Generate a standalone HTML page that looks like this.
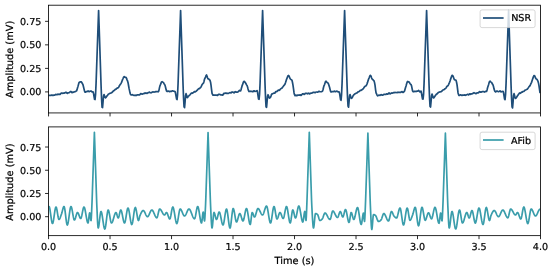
<!DOCTYPE html>
<html lang="en"><head><meta charset="utf-8"><title>NSR vs AFib ECG</title>
<style>html,body{margin:0;padding:0;background:#fff}svg{display:block}text{font-family:"DejaVu Sans","Liberation Sans",sans-serif;font-size:9.6px;fill:#000;stroke:#000;stroke-width:0.22px;text-rendering:geometricPrecision}</style>
</head><body>
<svg width="550" height="270" viewBox="0 0 550 270">
<rect width="550" height="270" fill="#fff"/>
<defs><clipPath id="ct"><rect x="48.55" y="5.2" width="491.95" height="107.73"/></clipPath>
<clipPath id="cb"><rect x="48.55" y="126.9" width="491.95" height="108.75"/></clipPath></defs>
<path d="M48.55 94.96 L49.05 95.43 L49.55 95.5 L50.05 95.5 L50.55 95.31 L51.05 95.33 L51.55 95.15 L52.05 95.01 L52.55 95.42 L53.05 95.47 L53.55 95.09 L54.05 95.06 L54.55 95.12 L55.05 94.92 L55.55 94.57 L56.05 94.41 L56.55 94.63 L57.05 94.7 L57.55 94.33 L58.05 94.18 L58.55 94.48 L59.05 94.32 L59.55 94.19 L60.05 94.38 L60.55 93.86 L61.05 93.24 L61.55 92.99 L62.05 92.99 L62.55 93.36 L63.05 93.29 L63.55 93.18 L64.05 93.18 L64.55 92.91 L65.05 92.71 L65.55 92.41 L66.05 92.3 L66.55 92.63 L67.05 93.25 L67.55 93.33 L68.05 92.9 L68.55 92.72 L69.05 92.63 L69.55 92.45 L70.05 91.99 L70.55 91.47 L71.05 91.53 L71.55 92.29 L72.05 92.74 L72.55 92.28 L73.05 92.04 L73.55 92.29 L74.05 92.07 L74.55 91.77 L75.05 91.68 L75.55 91.49 L76.05 91.12 L76.55 90.8 L77.05 89.64 L77.55 87.8 L78.05 86.13 L78.55 84.25 L79.05 82.49 L79.55 81.99 L80.05 82.09 L80.55 81.86 L81.05 81.77 L81.55 82.19 L82.05 82.97 L82.55 83.86 L83.05 84.94 L83.55 86.92 L84.05 89.09 L84.55 91.07 L85.05 92.2 L85.55 92.06 L86.05 91.59 L86.55 91.54 L87.05 91.59 L87.55 91.16 L88.05 90.93 L88.55 91.39 L89.05 91.71 L89.55 91.43 L90.05 91.09 L90.55 91.05 L91.05 91.08 L91.55 91.32 L92.05 91.82 L92.55 91.98 L93.05 91.78 L93.55 93.39 L94.05 96.59 L94.55 99.3 L95.05 99.51 L95.55 94.44 L96.05 83.86 L96.55 69.61 L97.05 55.21 L97.55 40.74 L98.05 26.33 L98.55 11.99 L98.6 10.61 L99.05 24.24 L99.55 39.36 L100.05 54.55 L100.55 69.76 L101.05 84.97 L101.55 98.13 L102.05 107.29 L102.55 107.52 L103.05 101.77 L103.55 95.95 L104.05 94.53 L104.55 95.91 L105.05 97.43 L105.55 97.82 L106.05 97.44 L106.55 96.52 L107.05 95.87 L107.55 95.43 L108.05 94.59 L108.55 93.97 L109.05 93.88 L109.55 93.59 L110.05 93.27 L110.55 93.15 L111.05 92.89 L111.55 92.61 L112.05 92.38 L112.55 91.85 L113.05 91.22 L113.55 90.83 L114.05 90.61 L114.55 90.3 L115.05 89.64 L115.55 89.21 L116.05 89.09 L116.55 88.53 L117.05 88.09 L117.55 88.07 L118.05 87.78 L118.55 87.28 L119.05 86.49 L119.55 85.5 L120.05 84.75 L120.55 84.16 L121.05 83.39 L121.55 82.4 L122.05 81.06 L122.55 79.66 L123.05 78.53 L123.55 77.31 L124.05 76.65 L124.55 76.81 L125.05 77.29 L125.55 77.45 L126.05 77.46 L126.55 78.4 L127.05 79.86 L127.55 80.95 L128.05 82.64 L128.55 85.48 L129.05 88.41 L129.55 90.64 L130.05 93.08 L130.55 94.49 L131.05 94.81 L131.55 94.93 L132.05 94.78 L132.55 94.7 L133.05 94.92 L133.55 95.2 L134.05 95.42 L134.55 95.42 L135.05 95.15 L135.55 95.23 L136.05 95.53 L136.55 95.25 L137.05 94.88 L137.55 94.92 L138.05 94.89 L138.55 94.85 L139.05 94.95 L139.55 94.91 L140.05 94.35 L140.55 93.61 L141.05 93.63 L141.55 94.01 L142.05 94.1 L142.55 94.11 L143.05 93.83 L143.55 93.59 L144.05 93.61 L144.55 93.1 L145.05 92.98 L145.55 93.31 L146.05 93.06 L146.55 93.18 L147.05 93.42 L147.55 92.93 L148.05 92.62 L148.55 92.7 L149.05 92.34 L149.55 92.1 L150.05 92.46 L150.55 92.77 L151.05 92.79 L151.55 92.62 L152.05 92.31 L152.55 92.01 L153.05 91.83 L153.55 91.97 L154.05 92.13 L154.55 92.03 L155.05 91.9 L155.55 91.64 L156.05 91.5 L156.55 91.58 L157.05 91.65 L157.55 91.69 L158.05 91.78 L158.55 91.62 L159.05 89.86 L159.55 87.37 L160.05 85.56 L160.55 84.4 L161.05 83.15 L161.55 81.93 L162.05 81.68 L162.55 82.02 L163.05 82.21 L163.55 82.75 L164.05 83.67 L164.55 84.46 L165.05 85.37 L165.55 87.24 L166.05 89.37 L166.55 90.87 L167.05 91.45 L167.55 91.48 L168.05 91.14 L168.55 91.02 L169.05 91.46 L169.55 91.63 L170.05 91.39 L170.55 91.29 L171.05 91.44 L171.55 91.32 L172.05 91.02 L172.55 90.89 L173.05 91.04 L173.55 91.19 L174.05 91.28 L174.55 91.4 L175.05 91.52 L175.55 93.27 L176.05 96.21 L176.55 98.89 L177.05 99.56 L177.55 94.55 L178.05 83.93 L178.55 69.49 L179.05 55.04 L179.55 40.76 L180.05 26.48 L180.55 12.06 L180.6 10.58 L181.05 24.24 L181.55 39.41 L182.05 54.6 L182.55 69.79 L183.05 84.99 L183.55 98.08 L184.05 106.82 L184.55 107.65 L185.05 102.13 L185.55 95.68 L186.05 93.63 L186.55 95.23 L187.05 97.52 L187.55 97.61 L188.05 96.58 L188.55 95.93 L189.05 95.67 L189.55 95.26 L190.05 94.71 L190.55 94.13 L191.05 93.39 L191.55 93.08 L192.05 93.29 L192.55 93.13 L193.05 92.83 L193.55 92.53 L194.05 91.89 L194.55 91.62 L195.05 91.87 L195.55 91.72 L196.05 91.25 L196.55 90.84 L197.05 90.26 L197.55 89.82 L198.05 89.28 L198.55 88.72 L199.05 88.73 L199.55 88.59 L200.05 87.93 L200.55 87.49 L201.05 86.96 L201.55 85.77 L202.05 84.74 L202.55 84.06 L203.05 83.47 L203.55 82.89 L204.05 81.23 L204.55 79.06 L205.05 78.01 L205.55 77.15 L206.05 75.59 L206.55 75.01 L207.05 76.23 L207.55 77.82 L208.05 78.81 L208.55 78.94 L209.05 79.24 L209.55 79.92 L210.05 80.43 L210.55 82.2 L211.05 85.42 L211.55 89.71 L212.05 93.34 L212.55 94.49 L213.05 95.26 L213.55 95.16 L214.05 95.07 L214.55 95.17 L215.05 95.14 L215.55 95.11 L216.05 95 L216.55 95.06 L217.05 95.45 L217.55 95.52 L218.05 94.89 L218.55 94.43 L219.05 94.44 L219.55 94.39 L220.05 94.51 L220.55 94.8 L221.05 95.04 L221.55 94.89 L222.05 94.71 L222.55 95.1 L223.05 94.97 L223.55 93.9 L224.05 93.24 L224.55 93.47 L225.05 93.39 L225.55 93.01 L226.05 93.21 L226.55 93.29 L227.05 93.21 L227.55 93.49 L228.05 93.5 L228.55 93.17 L229.05 92.97 L229.55 92.74 L230.05 92.63 L230.55 92.83 L231.05 92.85 L231.55 92.32 L232.05 92.04 L232.55 92.21 L233.05 92.16 L233.55 92.48 L234.05 92.84 L234.55 92.35 L235.05 91.68 L235.55 91.73 L236.05 92.16 L236.55 92.2 L237.05 92.16 L237.55 92.12 L238.05 91.81 L238.55 91.46 L239.05 90.9 L239.55 90.37 L240.05 90.58 L240.55 90.91 L241.05 89.71 L241.55 87.67 L242.05 85.91 L242.55 84.58 L243.05 83.18 L243.55 81.88 L244.05 81.29 L244.55 81.51 L245.05 82.27 L245.55 82.98 L246.05 83.81 L246.55 84.87 L247.05 85.58 L247.55 86.95 L248.05 88.96 L248.55 90.66 L249.05 91.54 L249.55 91.37 L250.05 91.16 L250.55 91.43 L251.05 91.45 L251.55 91.39 L252.05 91.46 L252.55 91.72 L253.05 91.7 L253.55 91.07 L254.05 90.77 L254.55 91.18 L255.05 91.47 L255.55 91.23 L256.05 91.15 L256.55 90.98 L257.05 90.55 L257.55 92.33 L258.05 95.91 L258.55 99.02 L259.05 99.31 L259.55 94.39 L260.05 83.73 L260.55 69.38 L261.05 55.05 L261.55 40.7 L262.05 26.33 L262.55 12.01 L262.6 10.63 L263.05 24.28 L263.55 39.45 L264.05 54.59 L264.55 69.72 L265.05 84.92 L265.55 98.08 L266.05 106.94 L266.55 107.33 L267.05 101.81 L267.55 96.21 L268.05 94.71 L268.55 95.93 L269.05 97.65 L269.55 98.01 L270.05 97.69 L270.55 97.09 L271.05 95.84 L271.55 94.4 L272.05 93.9 L272.55 93.8 L273.05 93.54 L273.55 93.18 L274.05 92.99 L274.55 93.24 L275.05 92.83 L275.55 91.77 L276.05 91.61 L276.55 91.77 L277.05 91.4 L277.55 90.8 L278.05 90.23 L278.55 90.12 L279.05 90.37 L279.55 90.24 L280.05 89.56 L280.55 88.94 L281.05 88.63 L281.55 88.35 L282.05 87.99 L282.55 87.36 L283.05 86.64 L283.55 85.93 L284.05 85.22 L284.55 84.82 L285.05 83.97 L285.55 82.55 L286.05 80.9 L286.55 79.27 L287.05 78.19 L287.55 76.9 L288.05 75.67 L288.55 75.44 L289.05 76.09 L289.55 77.27 L290.05 78.52 L290.55 79.15 L291.05 79.51 L291.55 79.84 L292.05 80.54 L292.55 82.76 L293.05 85.53 L293.55 89.19 L294.05 92.98 L294.55 94.72 L295.05 95.71 L295.55 95.44 L296.05 95.15 L296.55 95.57 L297.05 95.63 L297.55 95.16 L298.05 95.18 L298.55 95.17 L299.05 95.05 L299.55 95.04 L300.05 94.88 L300.55 95.13 L301.05 95.38 L301.55 94.97 L302.05 94.31 L302.55 93.89 L303.05 93.72 L303.55 93.99 L304.05 94.48 L304.55 94.23 L305.05 93.62 L305.55 93.36 L306.05 93.38 L306.55 93.38 L307.05 93.53 L307.55 93.79 L308.05 93.44 L308.55 93.17 L309.05 93.54 L309.55 93.9 L310.05 93.7 L310.55 93.22 L311.05 93.09 L311.55 93.14 L312.05 93.11 L312.55 92.86 L313.05 92.38 L313.55 92.26 L314.05 92.35 L314.55 92.45 L315.05 92.7 L315.55 92.48 L316.05 92.03 L316.55 91.98 L317.05 92 L317.55 92.15 L318.05 92.09 L318.55 91.46 L319.05 91.24 L319.55 91.62 L320.05 91.75 L320.55 91.76 L321.05 91.73 L321.55 91.65 L322.05 91.48 L322.55 91.03 L323.05 89.5 L323.55 87.23 L324.05 85.53 L324.55 84.53 L325.05 83.04 L325.55 81.45 L326.05 81.18 L326.55 81.92 L327.05 82.46 L327.55 82.71 L328.05 83.13 L328.55 84.18 L329.05 85.64 L329.55 87.3 L330.05 89.35 L330.55 91.31 L331.05 92.02 L331.55 91.73 L332.05 91.49 L332.55 91.55 L333.05 91.66 L333.55 91.62 L334.05 91.25 L334.55 91.18 L335.05 91.6 L335.55 91.77 L336.05 91.43 L336.55 91.12 L337.05 91.11 L337.55 91.41 L338.05 91.87 L338.55 91.97 L339.05 91.82 L339.55 93.24 L340.05 96.38 L340.55 99.69 L341.05 100.3 L341.55 94.56 L342.05 83.87 L342.55 69.51 L343.05 55.14 L343.55 40.76 L344.05 26.35 L344.55 11.98 L344.6 10.61 L345.05 24.33 L345.55 39.52 L346.05 54.61 L346.55 69.7 L347.05 84.79 L347.55 97.86 L348.05 106.19 L348.55 107.18 L349.05 101.77 L349.55 96.1 L350.05 94.63 L350.55 96.12 L351.05 98.1 L351.55 98.37 L352.05 97.77 L352.55 96.94 L353.05 95.97 L353.55 95.05 L354.05 94.55 L354.55 94.11 L355.05 93.79 L355.55 93.65 L356.05 93.29 L356.55 92.98 L357.05 92.9 L357.55 92.45 L358.05 91.84 L358.55 91.78 L359.05 91.56 L359.55 91.02 L360.05 90.59 L360.55 90.35 L361.05 90.33 L361.55 89.95 L362.05 89.61 L362.55 89.43 L363.05 88.95 L363.55 88.33 L364.05 87.58 L364.55 86.85 L365.05 86.28 L365.55 86.02 L366.05 85.68 L366.55 84.92 L367.05 83.83 L367.55 82.37 L368.05 80.64 L368.55 79.16 L369.05 78.05 L369.55 76.71 L370.05 75.6 L370.55 75.41 L371.05 76.2 L371.55 77.72 L372.05 79.05 L372.55 79.35 L373.05 79.79 L373.55 80.4 L374.05 80.93 L374.55 82.62 L375.05 85.41 L375.55 89.52 L376.05 92.84 L376.55 93.81 L377.05 95.11 L377.55 95.84 L378.05 95.77 L378.55 95.27 L379.05 95.1 L379.55 95.33 L380.05 95.33 L380.55 94.93 L381.05 94.61 L381.55 94.73 L382.05 95.08 L382.55 95.17 L383.05 95 L383.55 94.6 L384.05 94.27 L384.55 94.3 L385.05 94.29 L385.55 94.38 L386.05 94.37 L386.55 93.96 L387.05 93.87 L387.55 94.18 L388.05 94.04 L388.55 93.26 L389.05 92.79 L389.55 93.28 L390.05 93.84 L390.55 93.74 L391.05 93.25 L391.55 92.96 L392.05 93.12 L392.55 93.14 L393.05 92.84 L393.55 92.68 L394.05 92.69 L394.55 92.58 L395.05 92.44 L395.55 92.53 L396.05 92.52 L396.55 92.51 L397.05 92.76 L397.55 92.57 L398.05 92.18 L398.55 92.39 L399.05 92.45 L399.55 92.31 L400.05 92.41 L400.55 92.39 L401.05 92.18 L401.55 91.71 L402.05 91.59 L402.55 92.18 L403.05 92.45 L403.55 92.12 L404.05 91.68 L404.55 90.97 L405.05 89.26 L405.55 87.56 L406.05 85.99 L406.55 84.08 L407.05 82.42 L407.55 81.48 L408.05 81.59 L408.55 81.93 L409.05 81.95 L409.55 82.67 L410.05 83.75 L410.55 84.23 L411.05 84.57 L411.55 85.92 L412.05 88.33 L412.55 90.72 L413.05 91.64 L413.55 91.79 L414.05 91.69 L414.55 91.25 L415.05 91.24 L415.55 91.51 L416.05 91.53 L416.55 91.2 L417.05 91.04 L417.55 91.22 L418.05 90.89 L418.55 90.49 L419.05 90.89 L419.55 91.62 L420.05 91.87 L420.55 91.3 L421.05 91.2 L421.55 93.48 L422.05 96.63 L422.55 99.03 L423.05 99.16 L423.55 94.44 L424.05 83.87 L424.55 69.48 L425.05 55.06 L425.55 40.75 L426.05 26.45 L426.55 12.06 L426.6 10.63 L427.05 24.29 L427.55 39.41 L428.05 54.55 L428.55 69.79 L429.05 85.01 L429.55 98.05 L430.05 106.43 L430.55 107.01 L431.05 101.71 L431.55 95.7 L432.05 94.06 L432.55 95.58 L433.05 97.37 L433.55 97.98 L434.05 97.63 L434.55 96.76 L435.05 96.04 L435.55 95.38 L436.05 94.59 L436.55 94.1 L437.05 93.95 L437.55 93.42 L438.05 92.71 L438.55 92.36 L439.05 92.25 L439.55 91.97 L440.05 91.81 L440.55 91.78 L441.05 91.61 L441.55 91.4 L442.05 90.93 L442.55 90.35 L443.05 89.94 L443.55 89.74 L444.05 89.61 L444.55 89.18 L445.05 88.76 L445.55 88.51 L446.05 87.93 L446.55 87.02 L447.05 86.35 L447.55 86.07 L448.05 85.53 L448.55 84.59 L449.05 83.47 L449.55 82.34 L450.05 80.94 L450.55 79.35 L451.05 77.89 L451.55 76.42 L452.05 75.37 L452.55 75.32 L453.05 76.17 L453.55 77.51 L454.05 78.99 L454.55 79.74 L455.05 79.91 L455.55 79.97 L456.05 80.36 L456.55 82.26 L457.05 84.97 L457.55 88.85 L458.05 92.9 L458.55 94.54 L459.05 95.51 L459.55 95.48 L460.05 95.03 L460.55 94.85 L461.05 95.06 L461.55 95.33 L462.05 95.35 L462.55 95.17 L463.05 95.02 L463.55 95.18 L464.05 95.22 L464.55 94.89 L465.05 95.04 L465.55 95.38 L466.05 95.07 L466.55 94.7 L467.05 94.57 L467.55 94.33 L468.05 94.44 L468.55 94.89 L469.05 94.6 L469.55 93.89 L470.05 94.11 L470.55 94.34 L471.05 93.85 L471.55 93.81 L472.05 93.9 L472.55 93.58 L473.05 93.41 L473.55 93.07 L474.05 92.73 L474.55 92.94 L475.05 93.18 L475.55 93.5 L476.05 93.7 L476.55 93.26 L477.05 92.83 L477.55 92.8 L478.05 92.89 L478.55 92.67 L479.05 92.08 L479.55 91.63 L480.05 91.72 L480.55 92.16 L481.05 92.19 L481.55 91.85 L482.05 91.69 L482.55 91.59 L483.05 91.52 L483.55 91.53 L484.05 91.75 L484.55 92.03 L485.05 91.78 L485.55 91.28 L486.05 91.31 L486.55 91.46 L487.05 90.04 L487.55 87.84 L488.05 86.32 L488.55 84.8 L489.05 82.85 L489.55 81.45 L490.05 81.2 L490.55 81.7 L491.05 82.1 L491.55 82.44 L492.05 83.26 L492.55 84.31 L493.05 85.08 L493.55 86.72 L494.05 89.08 L494.55 90.6 L495.05 91.47 L495.55 91.97 L496.05 91.58 L496.55 91.09 L497.05 91.08 L497.55 91.33 L498.05 91.64 L498.55 91.72 L499.05 91.54 L499.55 91.12 L500.05 90.91 L500.55 91.39 L501.05 91.9 L501.55 91.77 L502.05 91.51 L502.55 91.44 L503.05 91.31 L503.55 92.83 L504.05 95.95 L504.55 98.99 L505.05 99.59 L505.55 94.5 L506.05 83.91 L506.55 69.62 L507.05 55.22 L507.55 40.75 L508.05 26.33 L508.55 11.95 L508.6 10.53 L509.05 24.23 L509.55 39.44 L510.05 54.6 L510.55 69.76 L511.05 84.91 L511.55 98.01 L512.05 106.88 L512.55 107.96 L513.05 102.27 L513.55 95.54 L514.05 93.68 L514.55 95.51 L515.05 97.76 L515.55 98.41 L516.05 98.06 L516.55 97.29 L517.05 96.45 L517.55 95.64 L518.05 94.98 L518.55 94.37 L519.05 93.6 L519.55 92.97 L520.05 93.14 L520.55 93.28 L521.05 92.61 L521.55 92.22 L522.05 92.23 L522.55 91.82 L523.05 91.49 L523.55 91.52 L524.05 91.25 L524.55 90.68 L525.05 90.17 L525.55 89.94 L526.05 89.77 L526.55 89.56 L527.05 89.32 L527.55 88.81 L528.05 88.15 L528.55 87.39 L529.05 86.63 L529.55 86.23 L530.05 85.62 L530.55 84.48 L531.05 83.43 L531.55 82.37 L532.05 80.79 L532.55 79.3 L533.05 77.91 L533.55 76.33 L534.05 75.5 L534.55 75.7 L535.05 76.73 L535.55 77.97 L536.05 78.83 L536.55 79.15 L537.05 79.53 L537.55 80.35 L538.05 81.49 L538.55 83.4 L539.05 86.02 L539.55 89.74 L540.05 93.08" fill="none" stroke="#1f4e79" stroke-width="1.7" stroke-linejoin="round" stroke-linecap="butt" clip-path="url(#ct)"/>
<path d="M48.55 206.79 L48.8 206.56 L49.05 206.51 L49.3 206.85 L49.55 207.63 L49.8 208.76 L50.05 210.17 L50.3 211.79 L50.55 213.55 L50.8 215.36 L51.05 217.16 L51.3 218.88 L51.55 220.42 L51.8 221.73 L52.05 222.73 L52.3 223.34 L52.55 223.49 L52.8 223.16 L53.05 222.41 L53.3 221.31 L53.55 219.94 L53.8 218.36 L54.05 216.66 L54.3 214.9 L54.55 213.15 L54.8 211.49 L55.05 209.99 L55.3 208.72 L55.55 207.75 L55.8 207.16 L56.05 207.01 L56.3 207.35 L56.55 208.11 L56.8 209.19 L57.05 210.52 L57.3 212.01 L57.55 213.56 L57.8 215.1 L58.05 216.53 L58.3 217.78 L58.55 218.74 L58.8 219.34 L59.05 219.5 L59.3 219.36 L59.55 219.06 L59.8 218.61 L60.05 218.05 L60.3 217.41 L60.55 216.71 L60.8 215.97 L61.05 215.24 L61.3 214.53 L61.55 213.87 L61.8 213.11 L62.05 212.22 L62.3 211.25 L62.55 210.25 L62.8 209.26 L63.05 208.36 L63.3 207.58 L63.55 206.97 L63.8 206.6 L64.05 206.51 L64.3 206.93 L64.55 207.87 L64.8 209.23 L65.05 210.93 L65.3 212.85 L65.55 214.91 L65.8 217.01 L66.05 219.05 L66.3 220.93 L66.55 222.57 L66.8 223.85 L67.05 224.7 L67.3 225 L67.55 224.76 L67.8 224.08 L68.05 223.03 L68.3 221.68 L68.55 220.09 L68.8 218.34 L69.05 216.5 L69.3 214.63 L69.55 212.8 L69.8 211.08 L70.05 209.53 L70.3 208.24 L70.55 207.25 L70.8 206.66 L71.05 206.51 L71.3 206.8 L71.55 207.45 L71.8 208.39 L72.05 209.57 L72.3 210.91 L72.55 212.36 L72.8 213.84 L73.05 215.31 L73.3 216.68 L73.55 217.89 L73.8 218.89 L74.05 219.6 L74.3 219.97 L74.55 219.95 L74.8 219.66 L75.05 219.15 L75.3 218.47 L75.55 217.67 L75.8 216.79 L76.05 215.89 L76.3 215 L76.55 214.18 L76.8 213.47 L77.05 212.93 L77.3 212.59 L77.55 212.5 L77.8 212.65 L78.05 212.97 L78.3 213.44 L78.55 214.01 L78.8 214.67 L79.05 215.36 L79.3 216.06 L79.55 216.73 L79.8 217.34 L80.05 217.86 L80.3 218.24 L80.55 218.46 L80.8 218.47 L81.05 218.14 L81.3 217.5 L81.55 216.6 L81.8 215.52 L82.05 214.3 L82.3 213.01 L82.55 211.71 L82.8 210.46 L83.05 209.31 L83.3 208.33 L83.55 207.58 L83.8 207.12 L84.05 207.01 L84.3 207.26 L84.55 207.82 L84.8 208.66 L85.05 209.73 L85.3 210.97 L85.55 212.35 L85.8 213.8 L86.05 215.3 L86.3 216.79 L86.55 218.22 L86.8 219.54 L87.05 220.72 L87.3 221.7 L87.55 222.44 L87.8 222.88 L88.05 222.97 L88.3 222.15 L88.55 220.46 L88.8 218.3 L89.05 216.07 L89.3 214.14 L89.55 212.93 L89.8 212.83 L90.05 214.13 L90.3 216.24 L90.55 218.49 L90.8 220.19 L91.05 220.62 L91.3 218.22 L91.55 213.44 L91.8 207.58 L92.05 201.53 L92.3 194.16 L92.55 186.8 L92.8 179.43 L93.05 172.07 L93.3 164.7 L93.55 157.34 L93.8 149.98 L94.05 142.61 L94.3 135.25 L94.4 132.3 L94.55 136.91 L94.8 144.6 L95.05 152.28 L95.3 159.97 L95.55 167.65 L95.8 175.33 L96.05 183.02 L96.3 190.7 L96.55 198.39 L96.8 205.16 L97.05 210.8 L97.3 216.37 L97.55 221.36 L97.8 225.27 L98.05 227.59 L98.3 227.94 L98.55 227.29 L98.8 226.05 L99.05 224.36 L99.3 222.36 L99.55 220.19 L99.8 217.99 L100.05 215.91 L100.3 214.08 L100.55 212.64 L100.8 211.74 L101.05 211.51 L101.3 211.81 L101.55 212.49 L101.8 213.5 L102.05 214.77 L102.3 216.24 L102.55 217.86 L102.8 219.56 L103.05 221.28 L103.3 222.97 L103.55 224.56 L103.8 226 L104.05 227.22 L104.3 228.17 L104.55 228.78 L104.8 229 L105.05 228.71 L105.3 227.89 L105.55 226.63 L105.8 225.04 L106.05 223.18 L106.3 221.17 L106.55 219.08 L106.8 217.01 L107.05 215.05 L107.3 213.29 L107.55 211.82 L107.8 210.73 L108.05 210.11 L108.3 210.04 L108.55 210.41 L108.8 211.13 L109.05 212.14 L109.3 213.37 L109.55 214.75 L109.8 216.2 L110.05 217.68 L110.3 219.09 L110.55 220.39 L110.8 221.49 L111.05 222.34 L111.3 222.86 L111.55 223 L111.8 222.87 L112.05 222.57 L112.3 222.12 L112.55 221.55 L112.8 220.88 L113.05 220.12 L113.3 219.3 L113.55 218.45 L113.8 217.58 L114.05 216.71 L114.3 215.86 L114.55 215.07 L114.8 214.34 L115.05 213.71 L115.3 213.18 L115.55 212.79 L115.8 212.56 L116.05 212.51 L116.3 212.78 L116.55 213.36 L116.8 214.15 L117.05 215.06 L117.3 215.99 L117.55 216.84 L117.8 217.52 L118.05 217.93 L118.3 217.97 L118.55 217.6 L118.8 216.92 L119.05 215.99 L119.3 214.92 L119.55 213.77 L119.8 212.64 L120.05 211.61 L120.3 210.77 L120.55 210.21 L120.8 210 L121.05 210.17 L121.3 210.65 L121.55 211.39 L121.8 212.34 L122.05 213.45 L122.3 214.68 L122.55 215.97 L122.8 217.29 L123.05 218.58 L123.3 219.78 L123.55 220.87 L123.8 221.78 L124.05 222.47 L124.3 222.89 L124.55 222.99 L124.8 222.69 L125.05 222.01 L125.3 221.01 L125.55 219.76 L125.8 218.33 L126.05 216.78 L126.3 215.18 L126.55 213.59 L126.8 212.08 L127.05 210.72 L127.3 209.56 L127.55 208.68 L127.8 208.14 L128.05 208.01 L128.3 208.29 L128.55 208.94 L128.8 209.89 L129.05 211.08 L129.3 212.47 L129.55 214 L129.8 215.6 L130.05 217.22 L130.3 218.82 L130.55 220.32 L130.8 221.67 L131.05 222.83 L131.3 223.72 L131.55 224.3 L131.8 224.5 L132.05 224.25 L132.3 223.56 L132.55 222.49 L132.8 221.13 L133.05 219.54 L133.3 217.81 L133.55 216 L133.8 214.19 L134.05 212.46 L134.3 210.87 L134.55 209.51 L134.8 208.44 L135.05 207.75 L135.3 207.5 L135.55 207.73 L135.8 208.35 L136.05 209.31 L136.3 210.52 L136.55 211.9 L136.8 213.39 L137.05 214.91 L137.3 216.39 L137.55 217.74 L137.8 218.91 L138.05 219.8 L138.3 220.35 L138.55 220.49 L138.8 220.09 L139.05 219.26 L139.3 218.19 L139.55 217.07 L139.8 216.08 L140.05 215.39 L140.3 214.83 L140.55 214.27 L140.8 213.72 L141.05 213.18 L141.3 212.68 L141.55 212.2 L141.8 211.77 L142.05 211.38 L142.3 211.06 L142.55 210.8 L142.8 210.62 L143.05 210.52 L143.3 210.51 L143.55 210.62 L143.8 210.83 L144.05 211.13 L144.3 211.51 L144.55 211.95 L144.8 212.44 L145.05 212.96 L145.3 213.49 L145.55 214.03 L145.8 214.56 L146.05 215.06 L146.3 215.52 L146.55 215.93 L146.8 216.26 L147.05 216.51 L147.3 216.66 L147.55 216.7 L147.8 216.61 L148.05 216.4 L148.3 216.09 L148.55 215.7 L148.8 215.23 L149.05 214.72 L149.3 214.16 L149.55 213.58 L149.8 213 L150.05 212.43 L150.3 211.88 L150.55 211.37 L150.8 210.92 L151.05 210.54 L151.3 210.25 L151.55 210.07 L151.8 210 L152.05 210.06 L152.3 210.22 L152.55 210.47 L152.8 210.81 L153.05 211.22 L153.3 211.68 L153.55 212.2 L153.8 212.75 L154.05 213.32 L154.3 213.9 L154.55 214.48 L154.8 215.05 L155.05 215.6 L155.3 216.12 L155.55 216.58 L155.8 216.99 L156.05 217.33 L156.3 217.58 L156.55 217.74 L156.8 217.8 L157.05 217.62 L157.3 217.11 L157.55 216.34 L157.8 215.38 L158.05 214.3 L158.3 213.17 L158.55 212.05 L158.8 211.02 L159.05 210.13 L159.3 209.46 L159.55 209.07 L159.8 209.01 L160.05 209.09 L160.3 209.26 L160.55 209.5 L160.8 209.8 L161.05 210.16 L161.3 210.56 L161.55 210.99 L161.8 211.44 L162.05 211.91 L162.3 212.37 L162.55 212.83 L162.8 213.28 L163.05 213.69 L163.3 214.06 L163.55 214.39 L163.8 214.65 L164.05 214.85 L164.3 214.97 L164.55 215 L164.8 214.85 L165.05 214.54 L165.3 214.12 L165.55 213.66 L165.8 213.2 L166.05 212.82 L166.3 212.57 L166.55 212.5 L166.8 212.65 L167.05 212.98 L167.3 213.46 L167.55 214.06 L167.8 214.73 L168.05 215.45 L168.3 216.19 L168.55 216.91 L168.8 217.57 L169.05 218.15 L169.3 218.6 L169.55 218.89 L169.8 219 L170.05 218.76 L170.3 218.11 L170.55 217.12 L170.8 215.89 L171.05 214.49 L171.3 213 L171.55 211.51 L171.8 210.11 L172.05 208.88 L172.3 207.89 L172.55 207.24 L172.8 207 L173.05 207.19 L173.3 207.71 L173.55 208.52 L173.8 209.58 L174.05 210.83 L174.3 212.22 L174.55 213.71 L174.8 215.25 L175.05 216.79 L175.3 218.28 L175.55 219.67 L175.8 220.92 L176.05 221.98 L176.3 222.79 L176.55 223.31 L176.8 223.5 L177.05 223.28 L177.3 222.65 L177.55 221.69 L177.8 220.47 L178.05 219.06 L178.3 217.52 L178.55 215.93 L178.8 214.35 L179.05 212.85 L179.3 211.51 L179.55 210.39 L179.8 209.55 L180.05 209.08 L180.3 209.01 L180.55 209.13 L180.8 209.37 L181.05 209.71 L181.3 210.14 L181.55 210.64 L181.8 211.19 L182.05 211.77 L182.3 212.38 L182.55 212.99 L182.8 213.58 L183.05 214.15 L183.3 214.67 L183.55 215.13 L183.8 215.5 L184.05 215.79 L184.3 215.96 L184.55 216 L184.8 215.91 L185.05 215.71 L185.3 215.41 L185.55 215.03 L185.8 214.58 L186.05 214.08 L186.3 213.54 L186.55 212.97 L186.8 212.38 L187.05 211.8 L187.3 211.24 L187.55 210.71 L187.8 210.23 L188.05 209.8 L188.3 209.46 L188.55 209.2 L188.8 209.04 L189.05 209 L189.3 209.08 L189.55 209.27 L189.8 209.56 L190.05 209.94 L190.3 210.38 L190.55 210.9 L190.8 211.46 L191.05 212.07 L191.3 212.71 L191.55 213.37 L191.8 214.03 L192.05 214.7 L192.3 215.35 L192.55 215.98 L192.8 216.57 L193.05 217.12 L193.3 217.6 L193.55 218.02 L193.8 218.36 L194.05 218.61 L194.3 218.76 L194.55 218.79 L194.8 218.5 L195.05 217.83 L195.3 216.88 L195.55 215.7 L195.8 214.36 L196.05 212.94 L196.3 211.5 L196.55 210.12 L196.8 208.87 L197.05 207.82 L197.3 207.03 L197.55 206.58 L197.8 206.53 L198.05 206.89 L198.3 207.6 L198.55 208.61 L198.8 209.85 L199.05 211.27 L199.3 212.81 L199.55 214.42 L199.8 216.05 L200.05 217.63 L200.3 219.1 L200.55 220.42 L200.8 221.53 L201.05 222.36 L201.3 222.87 L201.55 222.97 L201.8 222.09 L202.05 220.29 L202.3 217.98 L202.55 215.59 L202.8 213.54 L203.05 212.24 L203.3 212.15 L203.55 213.61 L203.8 215.98 L204.05 218.51 L204.3 220.43 L204.55 220.94 L204.8 219.1 L205.05 215.29 L205.3 210.33 L205.55 205.03 L205.8 198.6 L206.05 191.27 L206.3 183.93 L206.55 176.6 L206.8 169.27 L207.05 161.93 L207.3 154.6 L207.55 147.27 L207.8 139.93 L208.05 132.6 L208.05 132.6 L208.3 139.93 L208.55 147.27 L208.8 154.6 L209.05 161.93 L209.3 169.27 L209.55 176.6 L209.8 183.93 L210.05 191.27 L210.3 198.6 L210.55 205.08 L210.8 210.53 L211.05 215.93 L211.3 220.84 L211.55 224.79 L211.8 227.32 L212.05 227.97 L212.3 227.06 L212.55 225.13 L212.8 222.54 L213.05 219.67 L213.3 216.87 L213.55 214.5 L213.8 212.93 L214.05 212.51 L214.3 212.78 L214.55 213.37 L214.8 214.19 L215.05 215.17 L215.3 216.21 L215.55 217.24 L215.8 218.16 L216.05 218.9 L216.3 219.37 L216.55 219.49 L216.8 219.24 L217.05 218.69 L217.3 217.91 L217.55 216.98 L217.8 215.96 L218.05 214.92 L218.3 213.94 L218.55 213.09 L218.8 212.45 L219.05 212.07 L219.3 212.03 L219.55 212.31 L219.8 212.87 L220.05 213.66 L220.3 214.64 L220.55 215.76 L220.8 216.97 L221.05 218.24 L221.3 219.52 L221.55 220.77 L221.8 221.93 L222.05 222.97 L222.3 223.84 L222.55 224.5 L222.8 224.9 L223.05 224.99 L223.3 224.67 L223.55 223.94 L223.8 222.87 L224.05 221.54 L224.3 220.02 L224.55 218.37 L224.8 216.66 L225.05 214.96 L225.3 213.35 L225.55 211.9 L225.8 210.66 L226.05 209.73 L226.3 209.15 L226.55 209.01 L226.8 209.39 L227.05 210.26 L227.3 211.52 L227.55 213.1 L227.8 214.92 L228.05 216.88 L228.3 218.91 L228.55 220.92 L228.8 222.83 L229.05 224.56 L229.3 226.02 L229.55 227.14 L229.8 227.82 L230.05 227.99 L230.3 227.52 L230.55 226.47 L230.8 224.95 L231.05 223.08 L231.3 220.96 L231.55 218.71 L231.8 216.43 L232.05 214.25 L232.3 212.26 L232.55 210.59 L232.8 209.34 L233.05 208.62 L233.3 208.54 L233.55 208.92 L233.8 209.68 L234.05 210.73 L234.3 212 L234.55 213.43 L234.8 214.94 L235.05 216.47 L235.3 217.94 L235.55 219.29 L235.8 220.44 L236.05 221.32 L236.3 221.86 L236.55 221.99 L236.8 221.8 L237.05 221.37 L237.3 220.74 L237.55 219.97 L237.8 219.08 L238.05 218.14 L238.3 217.17 L238.55 216.23 L238.8 215.37 L239.05 214.62 L239.3 214.03 L239.55 213.64 L239.8 213.5 L240.05 213.63 L240.3 213.99 L240.55 214.54 L240.8 215.24 L241.05 216.04 L241.3 216.9 L241.55 217.78 L241.8 218.63 L242.05 219.41 L242.3 220.08 L242.55 220.6 L242.8 220.92 L243.05 220.99 L243.3 220.74 L243.55 220.17 L243.8 219.34 L244.05 218.3 L244.3 217.11 L244.55 215.82 L244.8 214.48 L245.05 213.16 L245.3 211.9 L245.55 210.76 L245.8 209.8 L246.05 209.07 L246.3 208.62 L246.55 208.51 L246.8 208.8 L247.05 209.46 L247.3 210.42 L247.55 211.63 L247.8 213.04 L248.05 214.57 L248.3 216.18 L248.55 217.79 L248.8 219.36 L249.05 220.82 L249.3 222.12 L249.55 223.19 L249.8 223.98 L250.05 224.42 L250.3 224.41 L250.55 223.53 L250.8 221.91 L251.05 219.84 L251.3 217.6 L251.55 215.48 L251.8 213.75 L252.05 212.69 L252.3 212.52 L252.55 212.78 L252.8 213.26 L253.05 213.89 L253.3 214.6 L253.55 215.33 L253.8 216 L254.05 216.55 L254.3 216.9 L254.55 216.99 L254.8 216.82 L255.05 216.44 L255.3 215.87 L255.55 215.16 L255.8 214.35 L256.05 213.48 L256.3 212.57 L256.55 211.67 L256.8 210.81 L257.05 210.04 L257.3 209.38 L257.55 208.89 L257.8 208.58 L258.05 208.5 L258.3 208.58 L258.55 208.77 L258.8 209.04 L259.05 209.4 L259.3 209.81 L259.55 210.28 L259.8 210.79 L260.05 211.32 L260.3 211.86 L260.55 212.4 L260.8 212.92 L261.05 213.41 L261.3 213.86 L261.55 214.25 L261.8 214.58 L262.05 214.82 L262.3 214.96 L262.55 215 L262.8 214.86 L263.05 214.54 L263.3 214.06 L263.55 213.47 L263.8 212.77 L264.05 211.99 L264.3 211.17 L264.55 210.33 L264.8 209.5 L265.05 208.69 L265.3 207.94 L265.55 207.28 L265.8 206.73 L266.05 206.32 L266.3 206.07 L266.55 206.01 L266.8 206.27 L267.05 206.88 L267.3 207.77 L267.55 208.9 L267.8 210.22 L268.05 211.68 L268.3 213.23 L268.55 214.82 L268.8 216.4 L269.05 217.92 L269.3 219.33 L269.55 220.58 L269.8 221.62 L270.05 222.4 L270.3 222.88 L270.55 222.99 L270.8 222.66 L271.05 221.91 L271.3 220.81 L271.55 219.44 L271.8 217.86 L272.05 216.16 L272.3 214.4 L272.55 212.65 L272.8 210.99 L273.05 209.49 L273.3 208.22 L273.55 207.25 L273.8 206.66 L274.05 206.51 L274.3 206.85 L274.55 207.61 L274.8 208.69 L275.05 210.02 L275.3 211.51 L275.55 213.06 L275.8 214.6 L276.05 216.03 L276.3 217.28 L276.55 218.24 L276.8 218.84 L277.05 218.99 L277.3 218.82 L277.55 218.42 L277.8 217.86 L278.05 217.17 L278.3 216.4 L278.55 215.59 L278.8 214.79 L279.05 214.04 L279.3 213.4 L279.55 212.89 L279.8 212.58 L280.05 212.5 L280.3 212.65 L280.55 212.97 L280.8 213.44 L281.05 214.01 L281.3 214.67 L281.55 215.36 L281.8 216.06 L282.05 216.73 L282.3 217.34 L282.55 217.86 L282.8 218.24 L283.05 218.46 L283.3 218.47 L283.55 218.12 L283.8 217.45 L284.05 216.52 L284.3 215.39 L284.55 214.12 L284.8 212.77 L285.05 211.41 L285.3 210.11 L285.55 208.91 L285.8 207.89 L286.05 207.11 L286.3 206.63 L286.55 206.51 L286.8 206.81 L287.05 207.49 L287.3 208.48 L287.55 209.73 L287.8 211.18 L288.05 212.76 L288.3 214.42 L288.55 216.08 L288.8 217.7 L289.05 219.21 L289.3 220.55 L289.55 221.65 L289.8 222.46 L290.05 222.92 L290.3 222.94 L290.55 222.36 L290.8 221.24 L291.05 219.74 L291.3 217.99 L291.55 216.13 L291.8 214.29 L292.05 212.62 L292.3 211.26 L292.55 210.34 L292.8 210 L293.05 210.19 L293.3 210.72 L293.55 211.51 L293.8 212.48 L294.05 213.56 L294.3 214.66 L294.55 215.73 L294.8 216.67 L295.05 217.41 L295.3 217.87 L295.55 217.99 L295.8 217.72 L296.05 217.11 L296.3 216.23 L296.55 215.13 L296.8 213.88 L297.05 212.54 L297.3 211.18 L297.55 209.86 L297.8 208.64 L298.05 207.58 L298.3 206.74 L298.55 206.2 L298.8 206 L299.05 206.18 L299.3 206.69 L299.55 207.48 L299.8 208.5 L300.05 209.71 L300.3 211.06 L300.55 212.51 L300.8 214 L301.05 215.49 L301.3 216.94 L301.55 218.29 L301.8 219.5 L302.05 220.52 L302.3 221.31 L302.55 221.82 L302.8 222 L303.05 221.55 L303.3 220.36 L303.55 218.68 L303.8 216.75 L304.05 214.82 L304.3 213.14 L304.55 211.95 L304.8 211.5 L305.05 212.51 L305.3 214.89 L305.55 217.65 L305.8 219.83 L306.05 220.4 L306.3 217.48 L306.55 211.85 L306.8 205.4 L307.05 198.58 L307.3 191.22 L307.55 183.85 L307.8 176.49 L308.05 169.12 L308.3 161.76 L308.55 154.39 L308.8 147.03 L309.05 139.66 L309.3 132.3 L309.3 132.3 L309.55 139.82 L309.8 147.34 L310.05 154.86 L310.3 162.39 L310.55 169.91 L310.8 177.43 L311.05 184.95 L311.3 192.47 L311.55 199.99 L311.8 205.79 L312.05 210.52 L312.3 215.11 L312.55 219.35 L312.8 223 L313.05 225.8 L313.3 227.54 L313.55 227.97 L313.8 227.12 L314.05 225.31 L314.3 222.9 L314.55 220.21 L314.8 217.59 L315.05 215.37 L315.3 213.91 L315.55 213.5 L315.8 213.53 L316.05 213.6 L316.3 213.7 L316.55 213.83 L316.8 213.98 L317.05 214.15 L317.3 214.34 L317.55 214.55 L317.8 214.93 L318.05 215.51 L318.3 216.25 L318.55 217.07 L318.8 217.92 L319.05 218.74 L319.3 219.47 L319.55 220.04 L319.8 220.4 L320.05 220.5 L320.3 220.46 L320.55 220.37 L320.8 220.24 L321.05 220.07 L321.3 219.87 L321.55 219.64 L321.8 219.4 L322.05 219.15 L322.3 218.88 L322.55 218.47 L322.8 217.92 L323.05 217.26 L323.3 216.54 L323.55 215.79 L323.8 215.06 L324.05 214.39 L324.3 213.8 L324.55 213.35 L324.8 213.07 L325.05 213 L325.3 213.07 L325.55 213.22 L325.8 213.45 L326.05 213.74 L326.3 214.09 L326.55 214.49 L326.8 214.92 L327.05 215.38 L327.3 215.86 L327.55 216.35 L327.8 216.83 L328.05 217.31 L328.3 217.76 L328.55 218.18 L328.8 218.56 L329.05 218.89 L329.3 219.15 L329.55 219.35 L329.8 219.47 L330.05 219.49 L330.3 219.23 L330.55 218.64 L330.8 217.81 L331.05 216.81 L331.3 215.7 L331.55 214.57 L331.8 213.48 L332.05 212.5 L332.3 211.72 L332.55 211.19 L332.8 211 L333.05 211.05 L333.3 211.21 L333.55 211.44 L333.8 211.76 L334.05 212.13 L334.3 212.56 L334.55 213.03 L334.8 213.53 L335.05 214.04 L335.3 214.56 L335.55 215.07 L335.8 215.56 L336.05 216.03 L336.3 216.45 L336.55 216.81 L336.8 217.11 L337.05 217.33 L337.3 217.47 L337.55 217.49 L337.8 217.31 L338.05 216.9 L338.3 216.31 L338.55 215.6 L338.8 214.82 L339.05 214.02 L339.3 213.25 L339.55 212.56 L339.8 212.01 L340.05 211.63 L340.3 211.5 L340.55 211.65 L340.8 212.07 L341.05 212.69 L341.3 213.44 L341.55 214.25 L341.8 215.06 L342.05 215.81 L342.3 216.43 L342.55 216.85 L342.8 217 L343.05 216.82 L343.3 216.32 L343.55 215.59 L343.8 214.68 L344.05 213.67 L344.3 212.63 L344.55 211.63 L344.8 210.75 L345.05 210.06 L345.3 209.62 L345.55 209.51 L345.8 209.77 L346.05 210.36 L346.3 211.23 L346.55 212.31 L346.8 213.55 L347.05 214.89 L347.3 216.28 L347.55 217.66 L347.8 218.96 L348.05 220.15 L348.3 221.15 L348.55 221.91 L348.8 222.38 L349.05 222.48 L349.3 221.99 L349.55 220.94 L349.8 219.49 L350.05 217.84 L350.3 216.15 L350.55 214.6 L350.8 213.37 L351.05 212.63 L351.3 212.53 L351.55 212.85 L351.8 213.45 L352.05 214.26 L352.3 215.2 L352.55 216.2 L352.8 217.19 L353.05 218.09 L353.3 218.82 L353.55 219.32 L353.8 219.5 L354.05 219.34 L354.3 218.9 L354.55 218.22 L354.8 217.34 L355.05 216.32 L355.3 215.18 L355.55 213.99 L355.8 212.77 L356.05 211.58 L356.3 210.47 L356.55 209.47 L356.8 208.63 L357.05 207.99 L357.3 207.6 L357.55 207.51 L357.8 207.82 L358.05 208.52 L358.3 209.54 L358.55 210.83 L358.8 212.32 L359.05 213.95 L359.3 215.66 L359.55 217.37 L359.8 219.04 L360.05 220.59 L360.3 221.97 L360.55 223.11 L360.8 223.95 L361.05 224.42 L361.3 224.44 L361.55 223.78 L361.8 222.56 L362.05 220.95 L362.3 219.12 L362.55 217.27 L362.8 215.55 L363.05 214.15 L363.3 213.25 L363.55 213.06 L363.8 214.84 L364.05 217.89 L364.3 220.62 L364.55 221.42 L364.8 218.89 L365.05 213.85 L365.3 207.73 L365.55 201.55 L365.8 194.27 L366.05 187 L366.3 179.73 L366.55 172.46 L366.8 165.19 L367.05 157.92 L367.3 150.65 L367.55 143.38 L367.8 136.11 L367.9 133.2 L368.05 137.66 L368.3 145.08 L368.55 152.51 L368.8 159.93 L369.05 167.36 L369.3 174.78 L369.55 182.21 L369.8 189.63 L370.05 197.06 L370.3 204.08 L370.55 209.75 L370.8 215.52 L371.05 220.88 L371.3 225.33 L371.55 228.37 L371.8 229.5 L372.05 228.62 L372.3 226.37 L372.55 223.32 L372.8 220.04 L373.05 217.1 L373.3 215.07 L373.55 214.5 L373.8 214.53 L374.05 214.6 L374.3 214.7 L374.55 214.84 L374.8 214.99 L375.05 215.16 L375.3 215.35 L375.55 215.54 L375.8 215.85 L376.05 216.31 L376.3 216.88 L376.55 217.53 L376.8 218.22 L377.05 218.93 L377.3 219.61 L377.55 220.23 L377.8 220.77 L378.05 221.18 L378.3 221.43 L378.55 221.5 L378.8 221.47 L379.05 221.4 L379.3 221.3 L379.55 221.17 L379.8 221.01 L380.05 220.83 L380.3 220.63 L380.55 220.41 L380.8 220.19 L381.05 219.95 L381.3 219.57 L381.55 219.01 L381.8 218.33 L382.05 217.56 L382.3 216.75 L382.55 215.94 L382.8 215.18 L383.05 214.51 L383.3 213.98 L383.55 213.63 L383.8 213.5 L384.05 213.56 L384.3 213.74 L384.55 214.01 L384.8 214.37 L385.05 214.81 L385.3 215.3 L385.55 215.85 L385.8 216.42 L386.05 217.01 L386.3 217.61 L386.55 218.2 L386.8 218.77 L387.05 219.3 L387.3 219.78 L387.55 220.2 L387.8 220.55 L388.05 220.81 L388.3 220.96 L388.55 220.99 L388.8 220.73 L389.05 220.16 L389.3 219.33 L389.55 218.32 L389.8 217.19 L390.05 216.01 L390.3 214.84 L390.55 213.75 L390.8 212.81 L391.05 212.08 L391.3 211.62 L391.55 211.5 L391.8 211.64 L392.05 211.95 L392.3 212.39 L392.55 212.93 L392.8 213.53 L393.05 214.14 L393.3 214.74 L393.55 215.28 L393.8 215.73 L394.05 216.06 L394.3 216.34 L394.55 216.62 L394.8 216.89 L395.05 217.15 L395.3 217.39 L395.55 217.6 L395.8 217.77 L396.05 217.9 L396.3 217.98 L396.55 217.99 L396.8 217.79 L397.05 217.34 L397.3 216.67 L397.55 215.84 L397.8 214.89 L398.05 213.85 L398.3 212.79 L398.55 211.73 L398.8 210.72 L399.05 209.81 L399.3 209.04 L399.55 208.45 L399.8 208.09 L400.05 208.01 L400.3 208.35 L400.55 209.13 L400.8 210.26 L401.05 211.67 L401.3 213.29 L401.55 215.05 L401.8 216.86 L402.05 218.66 L402.3 220.38 L402.55 221.92 L402.8 223.23 L403.05 224.23 L403.3 224.84 L403.55 224.99 L403.8 224.68 L404.05 223.98 L404.3 222.96 L404.55 221.67 L404.8 220.18 L405.05 218.55 L405.3 216.84 L405.55 215.13 L405.8 213.46 L406.05 211.91 L406.3 210.53 L406.55 209.39 L406.8 208.55 L407.05 208.08 L407.3 208.05 L407.55 208.53 L407.8 209.45 L408.05 210.71 L408.3 212.2 L408.55 213.82 L408.8 215.46 L409.05 217.01 L409.3 218.38 L409.55 219.45 L409.8 220.12 L410.05 220.3 L410.3 220.18 L410.55 219.91 L410.8 219.51 L411.05 219 L411.3 218.42 L411.55 217.79 L411.8 217.12 L412.05 216.45 L412.3 215.79 L412.55 215.18 L412.8 214.46 L413.05 213.61 L413.3 212.67 L413.55 211.68 L413.8 210.69 L414.05 209.75 L414.3 208.9 L414.55 208.18 L414.8 207.65 L415.05 207.35 L415.3 207.35 L415.55 207.88 L415.8 208.91 L416.05 210.35 L416.3 212.1 L416.55 214.06 L416.8 216.13 L417.05 218.22 L417.3 220.24 L417.55 222.08 L417.8 223.66 L418.05 224.86 L418.3 225.6 L418.55 225.79 L418.8 225.42 L419.05 224.57 L419.3 223.34 L419.55 221.8 L419.8 220.04 L420.05 218.13 L420.3 216.15 L420.55 214.19 L420.8 212.33 L421.05 210.65 L421.3 209.22 L421.55 208.14 L421.8 207.47 L422.05 207.31 L422.3 207.62 L422.55 208.32 L422.8 209.33 L423.05 210.58 L423.3 211.99 L423.55 213.5 L423.8 215.01 L424.05 216.47 L424.3 217.79 L424.55 218.91 L424.8 219.74 L425.05 220.22 L425.3 220.28 L425.55 220.06 L425.8 219.65 L426.05 219.06 L426.3 218.36 L426.55 217.56 L426.8 216.72 L427.05 215.87 L427.3 215.05 L427.55 214.31 L427.8 213.67 L428.05 213.18 L428.3 212.88 L428.55 212.8 L428.8 212.97 L429.05 213.33 L429.3 213.85 L429.55 214.49 L429.8 215.2 L430.05 215.95 L430.3 216.69 L430.55 217.38 L430.8 217.97 L431.05 218.44 L431.3 218.72 L431.55 218.79 L431.8 218.56 L432.05 218.04 L432.3 217.27 L432.55 216.32 L432.8 215.22 L433.05 214.03 L433.3 212.8 L433.55 211.59 L433.8 210.43 L434.05 209.38 L434.3 208.5 L434.55 207.82 L434.8 207.41 L435.05 207.31 L435.3 207.56 L435.55 208.12 L435.8 208.96 L436.05 210.03 L436.3 211.27 L436.55 212.65 L436.8 214.1 L437.05 215.6 L437.3 217.09 L437.55 218.52 L437.8 219.84 L438.05 221.02 L438.3 222 L438.55 222.74 L438.8 223.18 L439.05 223.27 L439.3 222.44 L439.55 220.74 L439.8 218.56 L440.05 216.3 L440.3 214.36 L440.55 213.13 L440.8 213.03 L441.05 214.33 L441.3 216.44 L441.55 218.69 L441.8 220.39 L442.05 220.82 L442.3 218.39 L442.55 213.53 L442.8 207.61 L443.05 201.55 L443.3 194.27 L443.55 187 L443.8 179.73 L444.05 172.46 L444.3 165.19 L444.55 157.92 L444.8 150.65 L445.05 143.38 L445.3 136.11 L445.4 133.2 L445.55 137.75 L445.8 145.34 L446.05 152.93 L446.3 160.51 L446.55 168.1 L446.8 175.69 L447.05 183.27 L447.3 190.86 L447.55 198.45 L447.8 205.16 L448.05 210.79 L448.3 216.35 L448.55 221.35 L448.8 225.26 L449.05 227.58 L449.3 227.94 L449.55 227.29 L449.8 226.05 L450.05 224.36 L450.3 222.36 L450.55 220.19 L450.8 217.99 L451.05 215.91 L451.3 214.08 L451.55 212.64 L451.8 211.74 L452.05 211.51 L452.3 211.83 L452.55 212.55 L452.8 213.6 L453.05 214.93 L453.3 216.46 L453.55 218.14 L453.8 219.9 L454.05 221.66 L454.3 223.38 L454.55 224.98 L454.8 226.4 L455.05 227.57 L455.3 228.43 L455.55 228.92 L455.8 228.96 L456.05 228.55 L456.3 227.73 L456.55 226.57 L456.8 225.15 L457.05 223.51 L457.3 221.73 L457.55 219.87 L457.8 218.01 L458.05 216.19 L458.3 214.49 L458.55 212.97 L458.8 211.7 L459.05 210.74 L459.3 210.15 L459.55 210.01 L459.8 210.36 L460.05 211.15 L460.3 212.28 L460.55 213.66 L460.8 215.21 L461.05 216.82 L461.3 218.42 L461.55 219.91 L461.8 221.21 L462.05 222.21 L462.3 222.83 L462.55 223 L462.8 222.85 L463.05 222.53 L463.3 222.04 L463.55 221.43 L463.8 220.7 L464.05 219.89 L464.3 219.02 L464.55 218.12 L464.8 217.2 L465.05 216.3 L465.3 215.44 L465.55 214.65 L465.8 213.94 L466.05 213.35 L466.3 212.89 L466.55 212.6 L466.8 212.5 L467.05 212.67 L467.3 213.12 L467.55 213.78 L467.8 214.57 L468.05 215.42 L468.3 216.26 L468.55 217.01 L468.8 217.59 L469.05 217.94 L469.3 217.97 L469.55 217.68 L469.8 217.11 L470.05 216.35 L470.3 215.44 L470.55 214.45 L470.8 213.45 L471.05 212.5 L471.3 211.67 L471.55 211.02 L471.8 210.61 L472.05 210.51 L472.3 210.79 L472.55 211.43 L472.8 212.35 L473.05 213.49 L473.3 214.79 L473.55 216.18 L473.8 217.6 L474.05 218.98 L474.3 220.25 L474.55 221.36 L474.8 222.23 L475.05 222.8 L475.3 223 L475.55 222.8 L475.8 222.25 L476.05 221.4 L476.3 220.31 L476.55 219.02 L476.8 217.6 L477.05 216.11 L477.3 214.59 L477.55 213.11 L477.8 211.71 L478.05 210.46 L478.3 209.41 L478.55 208.61 L478.8 208.13 L479.05 208.01 L479.3 208.26 L479.55 208.85 L479.8 209.72 L480.05 210.81 L480.3 212.1 L480.55 213.51 L480.8 215.02 L481.05 216.56 L481.3 218.09 L481.55 219.57 L481.8 220.94 L482.05 222.15 L482.3 223.16 L482.55 223.92 L482.8 224.38 L483.05 224.49 L483.3 224.1 L483.55 223.24 L483.8 221.99 L484.05 220.43 L484.3 218.66 L484.55 216.77 L484.8 214.84 L485.05 212.97 L485.3 211.24 L485.55 209.74 L485.8 208.55 L486.05 207.78 L486.3 207.5 L486.55 207.73 L486.8 208.35 L487.05 209.31 L487.3 210.52 L487.55 211.9 L487.8 213.39 L488.05 214.91 L488.3 216.39 L488.55 217.74 L488.8 218.91 L489.05 219.8 L489.3 220.35 L489.55 220.49 L489.8 220.09 L490.05 219.26 L490.3 218.19 L490.55 217.07 L490.8 216.08 L491.05 215.39 L491.3 214.83 L491.55 214.27 L491.8 213.72 L492.05 213.18 L492.3 212.68 L492.55 212.2 L492.8 211.77 L493.05 211.38 L493.3 211.06 L493.55 210.8 L493.8 210.62 L494.05 210.52 L494.3 210.51 L494.55 210.62 L494.8 210.83 L495.05 211.13 L495.3 211.51 L495.55 211.95 L495.8 212.44 L496.05 212.96 L496.3 213.49 L496.55 214.03 L496.8 214.56 L497.05 215.06 L497.3 215.52 L497.55 215.93 L497.8 216.26 L498.05 216.51 L498.3 216.66 L498.55 216.7 L498.8 216.61 L499.05 216.4 L499.3 216.09 L499.55 215.7 L499.8 215.23 L500.05 214.72 L500.3 214.16 L500.55 213.58 L500.8 213 L501.05 212.43 L501.3 211.88 L501.55 211.37 L501.8 210.92 L502.05 210.54 L502.3 210.25 L502.55 210.07 L502.8 210 L503.05 210.06 L503.3 210.22 L503.55 210.47 L503.8 210.81 L504.05 211.22 L504.3 211.68 L504.55 212.2 L504.8 212.75 L505.05 213.32 L505.3 213.9 L505.55 214.48 L505.8 215.05 L506.05 215.6 L506.3 216.12 L506.55 216.58 L506.8 216.99 L507.05 217.33 L507.3 217.58 L507.55 217.74 L507.8 217.8 L508.05 217.62 L508.3 217.11 L508.55 216.34 L508.8 215.38 L509.05 214.3 L509.3 213.17 L509.55 212.05 L509.8 211.02 L510.05 210.13 L510.3 209.46 L510.55 209.07 L510.8 209.01 L511.05 209.09 L511.3 209.26 L511.55 209.5 L511.8 209.8 L512.05 210.16 L512.3 210.56 L512.55 210.99 L512.8 211.44 L513.05 211.91 L513.3 212.37 L513.55 212.83 L513.8 213.28 L514.05 213.69 L514.3 214.06 L514.55 214.39 L514.8 214.65 L515.05 214.85 L515.3 214.97 L515.55 215 L515.8 214.85 L516.05 214.54 L516.3 214.12 L516.55 213.66 L516.8 213.2 L517.05 212.82 L517.3 212.57 L517.55 212.5 L517.8 212.65 L518.05 212.98 L518.3 213.46 L518.55 214.06 L518.8 214.73 L519.05 215.45 L519.3 216.19 L519.55 216.91 L519.8 217.57 L520.05 218.15 L520.3 218.6 L520.55 218.89 L520.8 219 L521.05 218.76 L521.3 218.11 L521.55 217.12 L521.8 215.89 L522.05 214.49 L522.3 213 L522.55 211.51 L522.8 210.11 L523.05 208.88 L523.3 207.89 L523.55 207.24 L523.8 207 L524.05 207.19 L524.3 207.71 L524.55 208.52 L524.8 209.58 L525.05 210.83 L525.3 212.22 L525.55 213.71 L525.8 215.25 L526.05 216.79 L526.3 218.28 L526.55 219.67 L526.8 220.92 L527.05 221.98 L527.3 222.79 L527.55 223.31 L527.8 223.5 L528.05 223.28 L528.3 222.65 L528.55 221.69 L528.8 220.47 L529.05 219.06 L529.3 217.52 L529.55 215.93 L529.8 214.35 L530.05 212.85 L530.3 211.51 L530.55 210.39 L530.8 209.55 L531.05 209.08 L531.3 209.01 L531.55 209.13 L531.8 209.37 L532.05 209.71 L532.3 210.14 L532.55 210.64 L532.8 211.19 L533.05 211.77 L533.3 212.38 L533.55 212.99 L533.8 213.58 L534.05 214.15 L534.3 214.67 L534.55 215.13 L534.8 215.5 L535.05 215.79 L535.3 215.96 L535.55 216 L535.8 215.91 L536.05 215.72 L536.3 215.43 L536.55 215.06 L536.8 214.63 L537.05 214.14 L537.3 213.61 L537.55 213.05 L537.8 212.49 L538.05 211.92 L538.3 211.38 L538.55 210.86 L538.8 210.39 L539.05 209.98 L539.3 209.64 L539.55 209.39 L539.8 209.24 L540.05 209.2 L540.3 209.24" fill="none" stroke="#3a9dab" stroke-width="1.7" stroke-linejoin="round" stroke-linecap="butt" clip-path="url(#cb)"/>
<path d="M48.55 112.93 v3.5 M48.55 235.65 v3.5 M110.04 112.93 v3.5 M110.04 235.65 v3.5 M171.54 112.93 v3.5 M171.54 235.65 v3.5 M233.03 112.93 v3.5 M233.03 235.65 v3.5 M294.52 112.93 v3.5 M294.52 235.65 v3.5 M356.02 112.93 v3.5 M356.02 235.65 v3.5 M417.51 112.93 v3.5 M417.51 235.65 v3.5 M479.01 112.93 v3.5 M479.01 235.65 v3.5 M540.5 112.93 v3.5 M540.5 235.65 v3.5 M48.55 91.9 h-3.5 M48.55 68.38 h-3.5 M48.55 44.85 h-3.5 M48.55 21.33 h-3.5 M48.55 216.7 h-3.5 M48.55 193.47 h-3.5 M48.55 170.25 h-3.5 M48.55 147.02 h-3.5" stroke="#000" stroke-width="0.83" fill="none"/>
<rect x="48.55" y="5.2" width="491.95" height="107.73" fill="none" stroke="#000" stroke-width="0.83"/>
<rect x="48.55" y="126.9" width="491.95" height="108.75" fill="none" stroke="#000" stroke-width="0.83"/>
<text x="41.4" y="95.45" text-anchor="end">0.00</text>
<text x="41.4" y="71.92" text-anchor="end">0.25</text>
<text x="41.4" y="48.4" text-anchor="end">0.50</text>
<text x="41.4" y="24.88" text-anchor="end">0.75</text>
<text x="41.4" y="220.25" text-anchor="end">0.00</text>
<text x="41.4" y="197.03" text-anchor="end">0.25</text>
<text x="41.4" y="173.8" text-anchor="end">0.50</text>
<text x="41.4" y="150.57" text-anchor="end">0.75</text>
<text x="48.55" y="249.7" text-anchor="middle">0.0</text>
<text x="110.04" y="249.7" text-anchor="middle">0.5</text>
<text x="171.54" y="249.7" text-anchor="middle">1.0</text>
<text x="233.03" y="249.7" text-anchor="middle">1.5</text>
<text x="294.52" y="249.7" text-anchor="middle">2.0</text>
<text x="356.02" y="249.7" text-anchor="middle">2.5</text>
<text x="417.51" y="249.7" text-anchor="middle">3.0</text>
<text x="479.01" y="249.7" text-anchor="middle">3.5</text>
<text x="540.5" y="249.7" text-anchor="middle">4.0</text>
<text x="294.52" y="263.7" text-anchor="middle" style="font-size:9.8px">Time (s)</text>
<text transform="translate(13.3 59.37) rotate(-90)" text-anchor="middle" style="font-size:9.8px">Amplitude (mV)</text>
<text transform="translate(13.3 182.08) rotate(-90)" text-anchor="middle" style="font-size:9.8px">Amplitude (mV)</text>
<rect x="480.1" y="9.9" width="55" height="17.7" rx="1.9" ry="1.9" fill="#fff" fill-opacity="0.8" stroke="#ccc" stroke-opacity="0.8" stroke-width="0.97"/>
<path d="M483.0 18.0 H503.6" stroke="#1f4e79" stroke-width="1.7" fill="none"/>
<text x="511.2" y="21.0">NSR</text>
<rect x="480.1" y="132.2" width="55" height="17.4" rx="1.9" ry="1.9" fill="#fff" fill-opacity="0.8" stroke="#ccc" stroke-opacity="0.8" stroke-width="0.97"/>
<path d="M483.0 140.0 H503.6" stroke="#3a9dab" stroke-width="1.7" fill="none"/>
<text x="510.9" y="143.5">AFib</text>
</svg></body></html>
